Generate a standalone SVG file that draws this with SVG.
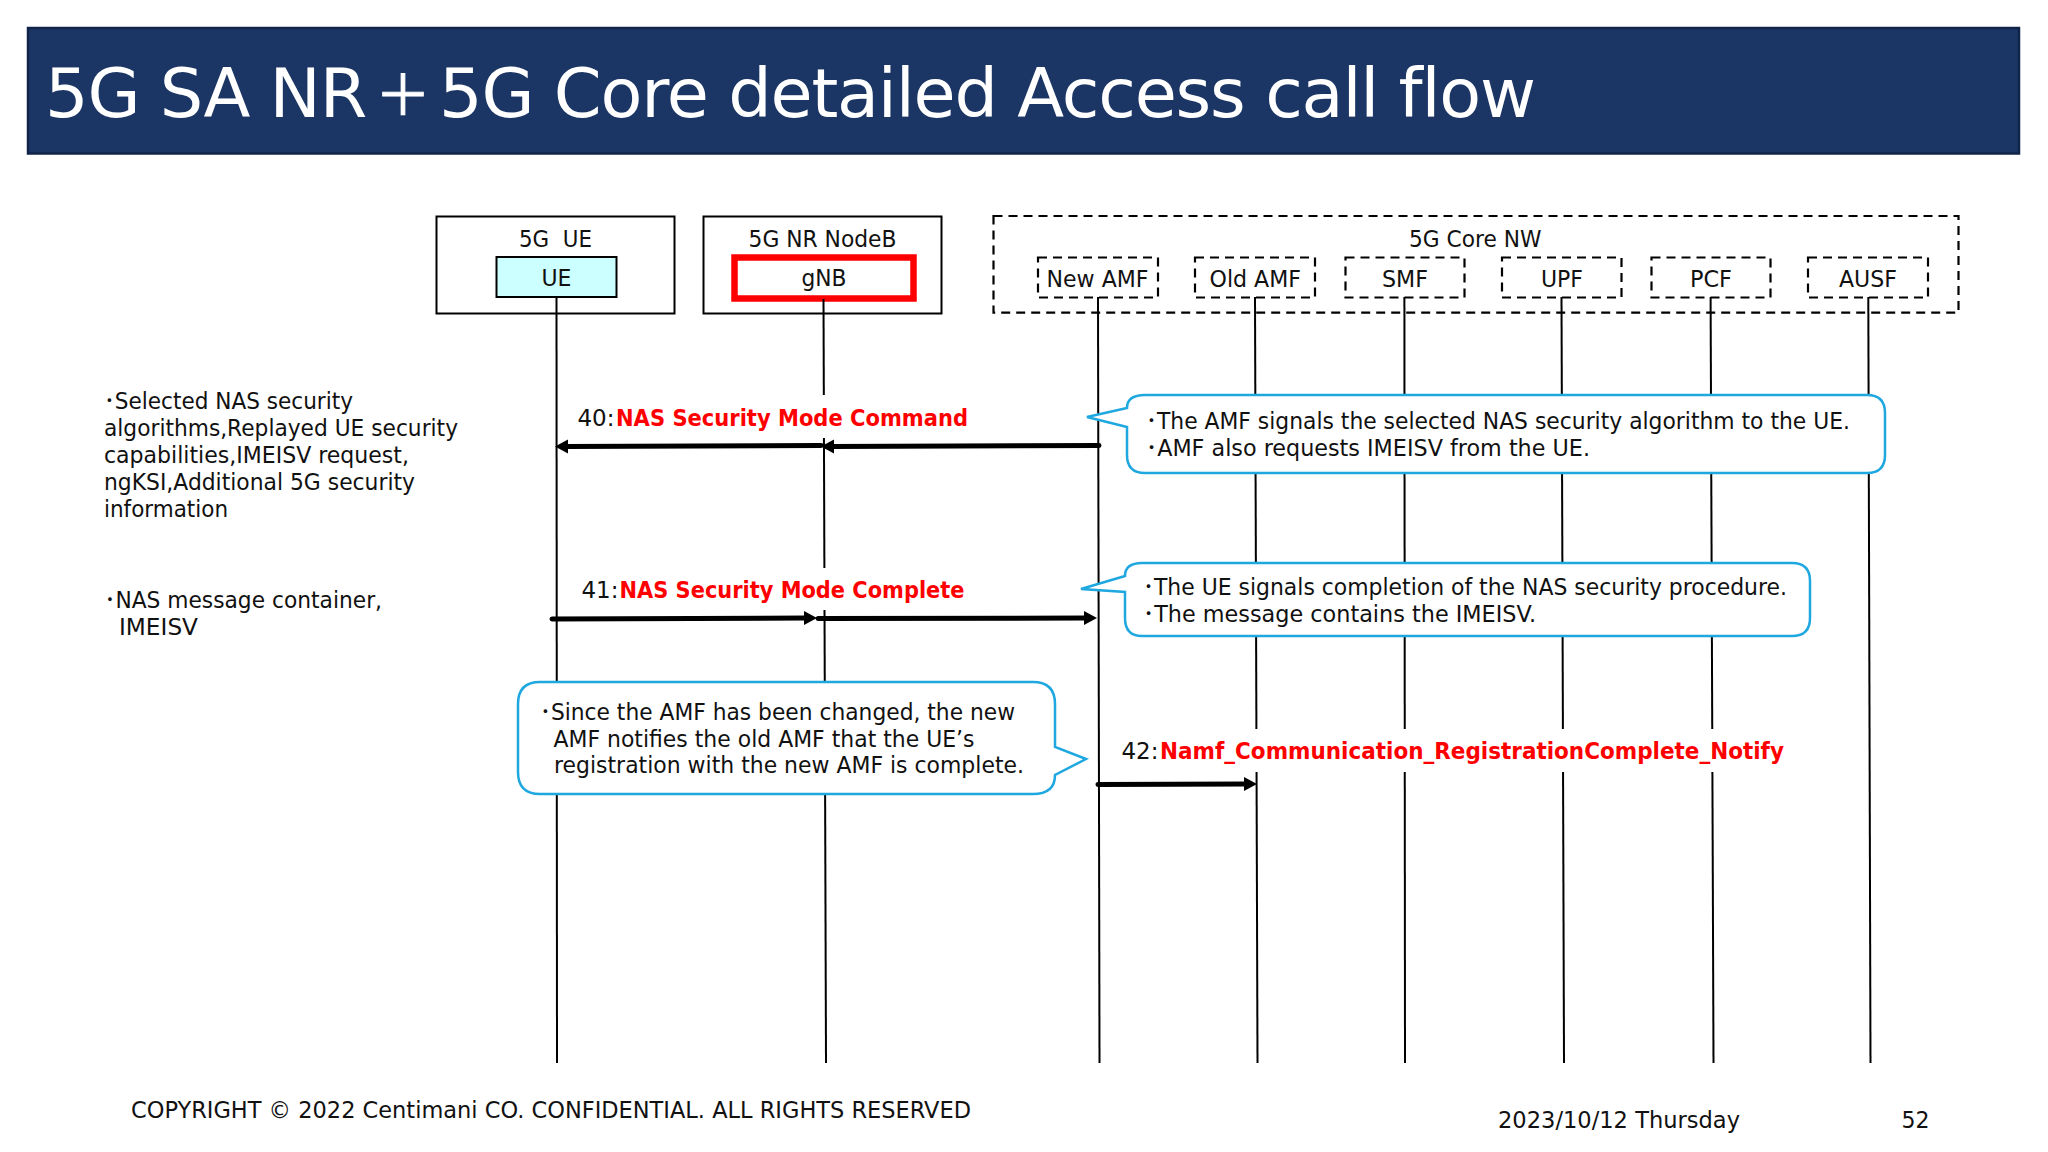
<svg xmlns="http://www.w3.org/2000/svg" width="2048" height="1152" viewBox="0 0 2048 1152">
<style>
text{font-family:"DejaVu Sans","Noto Sans CJK JP",sans-serif;font-size:22.5px;fill:#111}
.red{fill:#f00;font-weight:700;font-size:23px}
.title{fill:#fff;font-size:68.500px;letter-spacing:-1.200px}
.plus{fill:#fff;font-size:56px;stroke:#fff;stroke-width:.8}
.box{fill:#fff;stroke:#000;stroke-width:2}
.dash{fill:none;stroke:#000;stroke-width:2.2;stroke-dasharray:9 6}
.life{stroke:#000;stroke-width:2;fill:none}
.arrow{stroke:#000;stroke-width:5;fill:none;stroke-linecap:round;marker-end:url(#head)}
.call{fill:#fff;stroke:#1FA8E0;stroke-width:2.5;stroke-linejoin:miter}
.blank{fill:#fff}
</style>
<defs><marker id="head" markerUnits="userSpaceOnUse" markerWidth="14" markerHeight="16" viewBox="0 0 14 16" refX="2" refY="8" orient="auto"><path d="M0,1 L13,8 L0,15z" fill="#000"/></marker></defs>
<rect x="0" y="0" width="2048" height="1152" fill="#fff"/>
<g id="title-bar"><rect x="28" y="28" width="1991" height="125.500" fill="#1B3564" stroke="#10244A" stroke-width="2.500"/><text class="title" x="45" y="117">5G SA NR<tspan class="plus" x="375" dy="-2">＋</tspan><tspan x="439" dy="2">5G Core detailed Access call flow</tspan></text></g>
<g id="ue-node"><rect class="box" x="436.500" y="216.500" width="238" height="97"/><text x="519" y="246.700" textLength="73" lengthAdjust="spacingAndGlyphs" xml:space="preserve">5G  UE</text><rect x="496.500" y="257" width="120" height="40" fill="#CCFFFF" stroke="#000" stroke-width="2"/><text x="541.500" y="286" textLength="30" lengthAdjust="spacingAndGlyphs">UE</text></g>
<g id="gnb-node"><rect class="box" x="703.500" y="216.500" width="238" height="97"/><text x="748.500" y="246.700" textLength="148" lengthAdjust="spacingAndGlyphs">5G NR NodeB</text><rect x="734.500" y="257.500" width="179" height="41" fill="#fff" stroke="#f00" stroke-width="6.500"/><text x="801.500" y="286" textLength="45" lengthAdjust="spacingAndGlyphs">gNB</text></g>
<g id="core-nw"><rect class="dash" x="993.500" y="216" width="965" height="96.700"/><text x="1409" y="246.700" textLength="132.500" lengthAdjust="spacingAndGlyphs">5G Core NW</text></g>
<g id="new-amf"><rect class="dash" x="1038" y="257.500" width="120" height="40"/><text x="1046.500" y="286.500" textLength="102" lengthAdjust="spacingAndGlyphs">New AMF</text></g>
<g id="old-amf"><rect class="dash" x="1195" y="257.500" width="120" height="40"/><text x="1209.500" y="286.500" textLength="91.500" lengthAdjust="spacingAndGlyphs">Old AMF</text></g>
<g id="smf"><rect class="dash" x="1345.500" y="257.500" width="119" height="40"/><text x="1382" y="286.500" textLength="46" lengthAdjust="spacingAndGlyphs">SMF</text></g>
<g id="upf"><rect class="dash" x="1502" y="257.500" width="119.500" height="40"/><text x="1541" y="286.500" textLength="42" lengthAdjust="spacingAndGlyphs">UPF</text></g>
<g id="pcf"><rect class="dash" x="1651.500" y="257.500" width="119" height="40"/><text x="1690" y="286.500" textLength="42" lengthAdjust="spacingAndGlyphs">PCF</text></g>
<g id="ausf"><rect class="dash" x="1808" y="257.500" width="120" height="40"/><text x="1839" y="286.500" textLength="58" lengthAdjust="spacingAndGlyphs">AUSF</text></g>
<g id="connectors">
<line class="life" x1="556.500" y1="297" x2="557" y2="1063"/>
<line class="life" x1="823.500" y1="299" x2="826" y2="1063"/>
<line class="life" x1="1098" y1="297" x2="1099.500" y2="1063"/>
<line class="life" x1="1255" y1="297" x2="1257.500" y2="1063"/>
<line class="life" x1="1404.400" y1="297" x2="1405" y2="1063"/>
<line class="life" x1="1561.500" y1="297" x2="1564" y2="1063"/>
<line class="life" x1="1710.600" y1="297" x2="1713.500" y2="1063"/>
<line class="life" x1="1868.300" y1="297" x2="1870.500" y2="1063"/>
<rect class="blank" x="570" y="395" width="405" height="43"/>
<rect class="blank" x="570" y="568" width="405" height="42"/>
<rect class="blank" x="1112" y="729" width="688" height="43"/>
<line class="arrow" x1="1099" y1="445.500" x2="832" y2="446.500"/>
<line class="arrow" x1="821" y1="445.500" x2="566" y2="446.500"/>
<line class="arrow" x1="552" y1="619" x2="806" y2="618"/>
<line class="arrow" x1="818" y1="618.500" x2="1086" y2="618"/>
<line class="arrow" x1="1098" y1="784.500" x2="1246" y2="784"/>
</g>
<g id="label-40"><text x="577.500" y="425.500" textLength="37" lengthAdjust="spacingAndGlyphs">40:</text><text class="red" x="616" y="425.500" textLength="352" lengthAdjust="spacingAndGlyphs">NAS Security Mode Command</text></g>
<g id="label-41"><text x="581.500" y="598" textLength="37" lengthAdjust="spacingAndGlyphs">41:</text><text class="red" x="619.500" y="598" textLength="345" lengthAdjust="spacingAndGlyphs">NAS Security Mode Complete</text></g>
<g id="label-42"><text x="1121.500" y="759" textLength="37" lengthAdjust="spacingAndGlyphs">42:</text><text class="red" x="1160" y="759" textLength="624" lengthAdjust="spacingAndGlyphs">Namf_Communication_RegistrationComplete_Notify</text></g>
<g id="note-40"><text x="104" y="409" textLength="249" lengthAdjust="spacingAndGlyphs">･Selected NAS security</text><text x="104" y="436" textLength="354" lengthAdjust="spacingAndGlyphs">algorithms,Replayed UE security</text><text x="104" y="463" textLength="305" lengthAdjust="spacingAndGlyphs">capabilities,IMEISV request,</text><text x="104" y="490" textLength="311" lengthAdjust="spacingAndGlyphs">ngKSI,Additional 5G security</text><text x="104" y="516.700" textLength="124" lengthAdjust="spacingAndGlyphs">information</text></g>
<g id="note-41"><text x="104.500" y="608" textLength="277.500" lengthAdjust="spacingAndGlyphs">･NAS message container,</text><text x="119" y="635" textLength="79" lengthAdjust="spacingAndGlyphs">IMEISV</text></g>
<g id="callout-40"><path class="call" d="M1145,395 H1867 Q1885,395 1885,413 V455 Q1885,473 1867,473 H1145 Q1127,473 1127,455 V427 L1087,417 L1127,408 Q1127,395 1145,395z"/><text x="1146" y="429" textLength="704" lengthAdjust="spacingAndGlyphs">･The AMF signals the selected NAS security algorithm to the UE.</text><text x="1146" y="456" textLength="444" lengthAdjust="spacingAndGlyphs">･AMF also requests IMEISV from the UE.</text></g>
<g id="callout-41"><path class="call" d="M1142,563 H1792 Q1810,563 1810,581 V618 Q1810,636 1792,636 H1142 Q1125,636 1125,618 V592 L1081,589 L1125,576 Q1125,563 1142,563z"/><text x="1143" y="595" textLength="644" lengthAdjust="spacingAndGlyphs">･The UE signals completion of the NAS security procedure.</text><text x="1143" y="622" textLength="393" lengthAdjust="spacingAndGlyphs">･The message contains the IMEISV.</text></g>
<g id="callout-42"><path class="call" d="M540,682 H1033 Q1055,682 1055,704 V747 L1086,759 L1055,775 Q1055,794 1033,794 H540 Q518,794 518,772 V704 Q518,682 540,682z"/><text x="540" y="720" textLength="475" lengthAdjust="spacingAndGlyphs">･Since the AMF has been changed, the new</text><text x="553.500" y="746.700" textLength="421" lengthAdjust="spacingAndGlyphs">AMF notifies the old AMF that the UE’s</text><text x="554" y="773" textLength="470" lengthAdjust="spacingAndGlyphs">registration with the new AMF is complete.</text></g>
<g id="footer"><text x="131" y="1117.500" textLength="840" lengthAdjust="spacingAndGlyphs">COPYRIGHT © 2022 Centimani CO. CONFIDENTIAL. ALL RIGHTS RESERVED</text><text x="1498" y="1127.500" textLength="242" lengthAdjust="spacingAndGlyphs">2023/10/12 Thursday</text><text x="1901.500" y="1127.500" textLength="28" lengthAdjust="spacingAndGlyphs">52</text></g>
</svg>
